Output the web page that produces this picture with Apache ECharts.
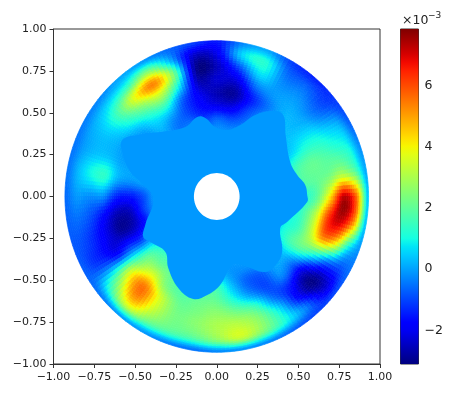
<!DOCTYPE html>
<html>
<head>
<meta charset="utf-8">
<style>html,body{margin:0;padding:0;background:#fff}#chart{width:474px;height:395px}</style>
<script src="https://cdn.jsdelivr.net/npm/echarts@6/dist/echarts.min.js"></script>
</head>
<body>
<div id="chart"></div>
<script>
// field values (x 10^-3), one list per radius, angle 0..350 in steps of 10 degrees
var angles = [0,10,20,30,40,50,60,70,80,90,100,110,120,130,140,150,160,170,180,190,200,210,220,230,240,250,260,270,280,290,300,310,320,330,340,350];
var radii = [0.38, 0.46, 0.54, 0.62, 0.70, 0.78, 0.86, 0.93];
var r38 = [0.5,0.5,0.5,0.1,0,0,0,0,-0.1,-0.1,-0.1,0,0,0,0,0,0,0,0,-0.1,0,0,0.2,0.5,0.3,0.2,0.2,0.2,0,0,0,0,0,0.2,0.3,0.3];
var r46 = [0.8,1,1,0.2,0.1,0.1,0,-0.5,-0.8,-0.6,-1,-0.5,-0.5,0,0,0,0,0,-1,-1.2,-1.5,-0.3,1,1.5,1.5,0.8,0.5,0.5,-0.1,-0.2,-0.1,0,0.2,1,1,0.8];
var r54 = [1.2,1.8,1.7,0.6,0.3,0.2,-0.2,-1,-2,-2,-1.7,-1,-0.2,0.3,-0.2,0,0,-0.1,-1.5,-2.5,-2.5,-1,1.8,2.2,2,1.5,1.5,1.5,0.3,-0.7,-0.8,0,0.3,1.8,1.6,1.6];
var r62 = [2,2,2,1,0.3,0.2,-0.5,-1.5,-2.8,-2.6,-2,-0.7,1.2,1,0.2,-0.1,0,0.2,-1.3,-2.6,-2.8,-1,2.3,3.8,2.4,1.8,2,2,1,-0.2,-1,-0.3,-0.6,2,3.3,3.3];
var r70 = [4.3,2.3,1.8,1,0.1,0.1,-0.1,-0.5,-2.2,-2.3,-2.5,1,3.3,2.4,1.2,0.3,0.3,1.3,-0.2,-1.8,-2.2,-1.6,3.3,5.5,3.6,2.2,2.3,2.6,2.2,1.5,-0.5,-1.5,-2.3,1,5.5,6.3];
var r78 = [7.2,3,1.5,0.6,-0.5,-0.2,-0.2,0.7,-1,-2.5,-2.8,2.3,5.3,3.9,1.8,0.5,0.3,1,-0.2,-1,-1.5,-1.2,2.5,5.2,3.4,2.3,2.5,3,3.2,2.5,0.7,-1.8,-3,-0.5,4.5,7.2];
var r86 = [5.5,2,1,0.2,-1,-0.7,-0.6,1.2,0.5,-2,-2.3,0.3,2.4,1.3,0.7,0.2,0,0.3,-0.1,-0.6,-1,-1,1.2,3.3,2.2,1.8,1.8,2.5,3.3,2.3,1,-0.5,-2.3,-1,1.2,5];
var r93 = [0.2,0,-0.3,-0.8,-1.2,-1.4,-1.1,0,-0.3,-1.5,-1,-0.6,-0.2,0,-0.3,-0.4,-0.5,-0.5,-0.6,-0.7,-0.8,-0.7,-0.5,-0.2,-0.2,-0.4,-0.6,-0.4,-0.3,-0.4,-0.7,-1,-1,-0.6,-0.2,0.2];
var rings = [r38, r46, r54, r62, r70, r78, r86, r93];

// star shaped inner part, nearly one level
var starX = [-0.119,-0.193,-0.346,-0.487,-0.578,-0.578,-0.529,-0.468,-0.389,-0.438,-0.45,-0.407,-0.315,-0.297,-0.236,-0.144,-0.058,0.021,0.095,0.156,0.297,0.376,0.401,0.389,0.431,0.554,0.554,0.542,0.493,0.45,0.422,0.407,0.34,0.236,0.144,0.064,-0.009,-0.07];
var starY = [0.475,0.415,0.385,0.367,0.337,0.26,0.146,0.087,-0.009,-0.17,-0.242,-0.272,-0.331,-0.427,-0.546,-0.612,-0.588,-0.528,-0.409,-0.409,-0.451,-0.391,-0.319,-0.188,-0.152,-0.033,0.009,0.069,0.128,0.206,0.367,0.487,0.51,0.487,0.427,0.397,0.415,0.469];
var starValue = -0.1;
var holeRadius = 0.14;

var cbMin = -3.1, cbMax = 7.85;
var cbTicks = [-2, 0, 2, 4, 6];

function ramp(t, pts) {
  for (var i = 1; i < pts.length; i++) {
    if (t <= pts[i][0]) {
      var a = pts[i - 1], b = pts[i];
      return a[1] + (b[1] - a[1]) * (t - a[0]) / (b[0] - a[0]);
    }
  }
  return pts[pts.length - 1][1];
}
// jet colormap
function jet(t) {
  t = Math.max(0, Math.min(1, t));
  var r = ramp(t, [[0,0],[0.35,0],[0.66,1],[0.89,1],[1,0.5]]);
  var g = ramp(t, [[0,0],[0.125,0],[0.375,1],[0.64,1],[0.91,0],[1,0]]);
  var b = ramp(t, [[0,0.5],[0.11,1],[0.34,1],[0.65,0],[1,0]]);
  return 'rgb(' + Math.round(r * 255) + ',' + Math.round(g * 255) + ',' + Math.round(b * 255) + ')';
}
function colorOf(v) {
  return jet((v - cbMin) / (cbMax - cbMin));
}
function minus(s) {
  return String(s).replace('-', '\u2212');
}

function cubic(a, b, c, d, t) {
  return b + 0.5 * t * (c - a + t * (2 * a - 5 * b + 4 * c - d + t * (3 * (b - c) + d - a)));
}
// smooth shading inside a table cell, the readings themselves stay as they are in the lists
function shade(i, j, u, w) {
  var n = angles.length, last = rings.length - 1, col = [];
  for (var k = -1; k <= 2; k++) {
    var row = rings[Math.max(0, Math.min(last, j + k))];
    col.push(cubic(row[(i - 1 + n) % n], row[i], row[(i + 1) % n], row[(i + 2) % n], u));
  }
  return cubic(col[0], col[1], col[2], col[3], w);
}

var SUB = 6;
function renderCell(params, api) {
  var i = api.value(0), j = api.value(1);
  var a0 = angles[i] * Math.PI / 180, da = 10 * Math.PI / 180;
  var r0 = radii[j], r1 = radii[j + 1];
  function pt(u, w) {
    var a = a0 + da * u, r = r0 + (r1 - r0) * w;
    return api.coord([r * Math.cos(a), r * Math.sin(a)]);
  }
  var children = [];
  for (var m = 0; m < SUB; m++) {
    for (var n = 0; n < SUB; n++) {
      var c = colorOf(shade(i, j, (m + 0.5) / SUB, (n + 0.5) / SUB));
      children.push({
        type: 'polygon',
        shape: { points: [pt(m / SUB, n / SUB), pt((m + 1) / SUB, n / SUB), pt((m + 1) / SUB, (n + 1) / SUB), pt(m / SUB, (n + 1) / SUB)] },
        style: { fill: c, stroke: c, lineWidth: 0.7 }
      });
    }
  }
  return { type: 'group', children: children };
}

var cells = [];
for (var j = 0; j < radii.length - 1; j++) {
  for (var i = 0; i < angles.length; i++) cells.push([i, j]);
}

var chart = echarts.init(document.getElementById('chart'));
var FONT = '"DejaVu Sans"';

function plotAxis(pos) {
  return {
    type: 'value', gridIndex: 0, position: pos, min: -1, max: 1, interval: 0.25,
    axisLine: { show: true, onZero: false, lineStyle: { color: '#333', width: 1 } },
    axisTick: { show: true, length: 4, lineStyle: { color: '#333' } },
    splitLine: { show: false },
    axisLabel: {
      color: '#222', fontFamily: FONT, fontSize: 11, margin: pos == 'bottom' ? 8 : 7, showMinLabel: true, showMaxLabel: true,
      formatter: function (v) { return minus(v.toFixed(2)); }
    }
  };
}

chart.setOption({
  backgroundColor: '#fff',
  animation: false,
  grid: [
    { left: 53.5, top: 29, width: 326.5, height: 335, show: true, borderColor: '#333', borderWidth: 1, backgroundColor: 'transparent' },
    { left: 400.5, top: 29, width: 18, height: 335, show: true, borderColor: '#333', borderWidth: 1, backgroundColor: 'transparent' }
  ],
  xAxis: [
    plotAxis('bottom'),
    { type: 'value', gridIndex: 1, min: 0, max: 1, show: false }
  ],
  yAxis: [
    plotAxis('left'),
    {
      type: 'value', gridIndex: 1, position: 'right', min: cbMin, max: cbMax,
      axisLine: { show: false },
      splitLine: { show: false },
      axisTick: { show: true, length: 4, lineStyle: { color: '#333' }, customValues: cbTicks },
      axisLabel: {
        color: '#222', fontFamily: FONT, fontSize: 12.5, margin: 6, customValues: cbTicks,
        formatter: function (v) { return minus(v); }
      }
    }
  ],
  graphic: [
    { type: 'text', left: 402, top: 14, silent: true, style: { text: '\u00d710', fill: '#222', font: '12.5px ' + FONT } },
    { type: 'text', left: 428, top: 11, silent: true, style: { text: '\u22123', fill: '#222', font: '9px ' + FONT } }
  ],
  series: [
    {
      type: 'custom', xAxisIndex: 0, yAxisIndex: 0, silent: true, z: 2,
      data: cells, renderItem: renderCell
    },
    {
      type: 'custom', xAxisIndex: 0, yAxisIndex: 0, silent: true, z: 3,
      data: [[0, 0]],
      renderItem: function (params, api) {
        return {
          type: 'polygon',
          shape: { points: starX.map(function (x, k) { return api.coord([x, starY[k]]); }), smooth: 0.4 },
          style: { fill: colorOf(starValue) }
        };
      }
    },
    {
      type: 'custom', xAxisIndex: 0, yAxisIndex: 0, silent: true, z: 4,
      data: [[0, 0]],
      renderItem: function (params, api) {
        var pts = [];
        for (var k = 0; k < 72; k++) {
          var a = k * 5 * Math.PI / 180;
          pts.push(api.coord([holeRadius * Math.cos(a), holeRadius * Math.sin(a)]));
        }
        return { type: 'polygon', shape: { points: pts }, style: { fill: '#fff' } };
      }
    },
    {
      // colorbar
      type: 'custom', xAxisIndex: 1, yAxisIndex: 1, silent: true, z: 2,
      data: [[0, cbMin, 1, cbMax]],
      renderItem: function (params, api) {
        var p0 = api.coord([api.value(0), api.value(1)]);
        var p1 = api.coord([api.value(2), api.value(3)]);
        var stops = [];
        for (var k = 0; k <= 40; k++) stops.push({ offset: k / 40, color: jet(1 - k / 40) });
        return {
          type: 'rect',
          shape: { x: p0[0], y: p1[1], width: p1[0] - p0[0], height: p0[1] - p1[1] },
          style: { fill: new echarts.graphic.LinearGradient(0, 0, 0, 1, stops) }
        };
      }
    }
  ]
});
</script>
</body>
</html>
